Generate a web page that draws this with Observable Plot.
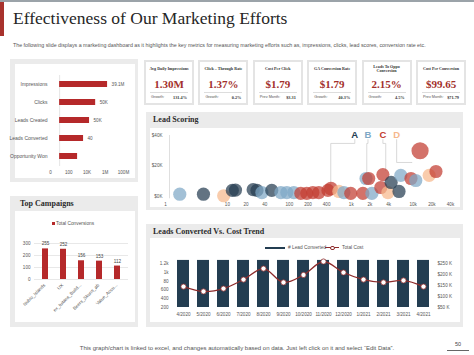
<!DOCTYPE html>
<html><head><meta charset="utf-8">
<script src="https://cdn.jsdelivr.net/npm/d3@7"></script>
<script src="https://cdn.jsdelivr.net/npm/@observablehq/plot@0.6"></script>
<style>
body{margin:0;background:#fff;}
#page{position:relative;width:474px;height:355px;overflow:hidden;font-family:"Liberation Sans",Arial,sans-serif;background:#fff;}
.serif{font-family:"Liberation Serif","DejaVu Serif",serif;}
</style></head>
<body><div id="page"></div>
<script>
// ---------- DATA ----------
const funnelStages = ["Impressions","Clicks","Leads Created","Leads Converted","Opportunity Won"];
const funnelValues = [1800000, 89000, 19000, 4200, 930];
const funnelLabels = ["39.1M","50K","50K","40",""];
const funnelTicks = [1,100,10000,1000000,100000000];
const funnelTickLabels = ["0","100","10K","1M","100M"];

const kpiTitles = ["Avg Daily Impressions","Click – Through Rate","Cost Per Click","GA Conversion Rate","Leads To Oppo<br>Conversion","Cost Per Conversion"];
const kpiValues = ["1.30M","1.37%","$1.79","$1.79","2.15%","$99.65"];
const kpiSubLabels = ["Growth:","Growth:","Prev Month:","Growth:","Growth:","Prev Month:"];
const kpiSubValues = ["131.4%","0.2%","$3.31","40.3%","4.5%","$71.79"];

const campaigns = ["Nublo_Islands","UX","ex_tuitans_Build...","Beers_Skuns_ab","Value_Accu..."];
const conversions = [255,252,156,153,112];

const leadX = [1.7,4.1,8.7,12,13.5,26,30,36,52,73,91,118,153,191,240,299,420,470,630,760,980,1540,1730,1910,2150,3000,3240,3900,4400,5900,6300,9200,11000,12900,18100,23300];
const leadY = [1500,1500,500,4000,4200,4500,4000,2600,4000,2600,2600,2600,2000,2000,2600,2600,4000,5200,3300,2600,2000,2000,11800,11800,2000,5900,14400,2600,9200,3300,13800,11800,10500,30000,13800,16400];
const leadGrade = ["B","A","D","A","A","A","A","B","A","B","B","B","C","C","C","C","C","C","D","B","C","C","B","C","B","C","C","D","A","A","B","C","B","C","D","C"];
const leadWeight = [1,1,1,1,1,1,1,1,1,1,1,1,1,1,1,1,1,1.1,1,1,1,1,1,1,1,1,1,1,1,1,1,1,1,1.7,1,1];
const grades = ["A","B","C","D"];
const gradeColors = ["#253d52","#7ea8c6","#c23b30","#f6b88c"];
const leadTicks = [1,10,20,40,100,200,400,1000,2000,4000,10000,20000,40000];
const leadTickLabels = ["1","10","20","40","100","200","400","1k","2k","4k","10k","20k","40k"];
const leadYTicks = [0,20000,40000];
const leadYTickLabels = ["$0K","$20K","$40K"];
// annotation callouts: letter x, elbow y, target x, target y (data space)
const annoX = [1140,1860,3240,5400];
const annoElbowY = [34800,34800,34800,22300];
const annoTargetX = [466,1780,3600,9600];
const annoTargetY = [7000,15600,17000,22300];

const months = ["4/2020","5/2020","6/2020","7/2020","8/2020","9/2020","10/2020","11/2020","12/2020","1/2021","2/2021","3/2021","4/2021"];
const leadsConverted = [1270,1270,1270,1270,1270,1270,1270,1270,1270,1270,1270,1270,1270];
const totalCostK = [145,123,136,177,227,164,198,259,209,177,164,173,145];
const leadAxisTicks = [200,400,600,800,1000,1200];
const leadAxisLabels = ["200","400","600","80","1k","1.2k"];
const costAxisTicks = [50,100,150,200,250];
const costAxisLabels = ["$50 K","$100 K","$150 K","$200 K","$250 K"];

// ---------- HELPERS ----------
const page = document.getElementById("page");
function div(style, html){const d=document.createElement("div");d.style.cssText="position:absolute;"+style;if(html!=null)d.innerHTML=html;page.appendChild(d);return d;}
function place(svg,x,y){svg.style.position="absolute";svg.style.left=x+"px";svg.style.top=y+"px";page.appendChild(svg);}
const axisStyle = {fontSize:"4.6px",fontFamily:"Liberation Sans, Arial, sans-serif",color:"#666",background:"transparent",overflow:"visible"};

// ---------- HEADER ----------
div("left:0;top:0;width:474px;height:2px;background:#9ba3a9;");
div("left:0;top:2px;width:4px;height:34px;background:#a8322d;");
div("left:13px;top:8px;font-size:17.5px;color:#262626;white-space:nowrap;", "Effectiveness of Our Marketing Efforts").className="serif";
div("left:13px;top:41.5px;font-size:5.3px;color:#555;white-space:nowrap;", "The following slide displays a marketing dashboard as it highlights the key metrics for measuring marketing efforts such as, impressions, clicks, lead scores, conversion rate etc.");

// ---------- PANELS ----------
const gray="#ebebeb";
div(`left:10px;top:59px;width:128px;height:123px;background:${gray};`);
div(`left:15px;top:64px;width:120px;height:114px;background:#fff;`);
div(`left:10px;top:196px;width:128px;height:131px;background:${gray};`);
div(`left:15px;top:211px;width:120px;height:111px;background:#fff;`);
div(`left:146px;top:112px;width:317px;height:98px;background:${gray};`);
div(`left:150px;top:128px;width:310px;height:79px;background:#fff;`);
div(`left:146px;top:224px;width:317px;height:103px;background:${gray};`);
div(`left:150px;top:238px;width:310px;height:84px;background:#fff;`);
const pt = "font-size:8px;font-weight:bold;color:#2b2b2b;white-space:nowrap;";
div("left:20px;top:199px;"+pt,"Top Campaigns").className="serif";
div("left:153px;top:115px;"+pt,"Lead Scoring").className="serif";
div("left:153px;top:227px;"+pt,"Leads Converted Vs. Cost Trend").className="serif";

// ---------- KPI CARDS ----------
kpiTitles.forEach((t,i)=>{
  const x = 146 + i*54.4;
  const c = div(`left:${x}px;top:62px;width:46px;height:41px;background:#fff;box-shadow:0 0 0 2px #e4e4e4;`);
  c.innerHTML = `<div class="serif" style="position:absolute;left:0;width:46px;top:${i===4?3:5}px;text-align:center;font-size:4.1px;line-height:4.3px;font-weight:bold;color:#333;">${t}</div>
  <div class="serif" style="position:absolute;left:0;width:46px;top:16px;text-align:center;font-size:11px;line-height:12px;font-weight:bold;color:#a3302c;">${kpiValues[i]}</div>
  <div style="position:absolute;left:4px;width:38px;top:30px;height:0;border-top:0.6px solid #ddd;"></div>
  <div style="position:absolute;left:5px;top:33px;font-size:3.8px;color:#555;">${kpiSubLabels[i]}</div>
  <div class="serif" style="position:absolute;right:5px;top:32.5px;font-size:4.3px;font-weight:bold;color:#333;">${kpiSubValues[i]}</div>`;
});

// ---------- FUNNEL (log bars) ----------
const funnel = funnelStages.map((s,i)=>({stage:s,value:funnelValues[i],label:funnelLabels[i]}));
const funnelTickData = funnelTicks.map((t,i)=>({t,label:funnelTickLabels[i]}));
place(Plot.plot({
  width:120,height:114,marginLeft:35,marginRight:12,marginTop:11,marginBottom:12,
  style:axisStyle,
  x:{type:"log",domain:[1,1e8],axis:null},
  y:{domain:funnelStages,paddingInner:0.64,paddingOuter:0.32},
  marks:[
    Plot.ruleX([10],{stroke:"#d9d9d9",strokeWidth:0.7}),
    Plot.barX(funnel,{y:"stage",x1:10,x2:"value",fill:"#b5292a"}),
    Plot.text(funnel,{y:"stage",x:"value",text:"label",dx:4,textAnchor:"start",fill:"#555",fontSize:4.6}),
    Plot.text(funnelTickData,{x:"t",text:"label",frameAnchor:"bottom",dy:7,fill:"#555",fontSize:4.6}),
    Plot.axisY({tickSize:0,tickPadding:3,label:null,fill:"#555",fontSize:5})
  ]
}),15,64);

// ---------- TOP CAMPAIGNS ----------
const camp = campaigns.map((c,i)=>({c,v:conversions[i]}));
div("left:52px;top:222px;width:3px;height:3px;background:#b5292a;");
div("left:56px;top:221px;font-size:4.8px;color:#555;white-space:nowrap;","Total Conversions");
place(Plot.plot({
  width:120,height:111,marginLeft:19,marginRight:7,marginTop:32,marginBottom:43,
  style:axisStyle,
  x:{domain:campaigns,paddingInner:0.67,paddingOuter:0.335,axis:null},
  y:{domain:[0,300]},
  marks:[
    Plot.gridY([0,100,200,300],{stroke:"#d9d9d9",strokeOpacity:1,strokeWidth:0.6}),
    Plot.axisY([0,100,200,300],{tickSize:0,tickPadding:4,label:null,fill:"#555"}),
    Plot.barY(camp,{x:"c",y:"v",fill:"#b5292a"}),
    Plot.text(camp,{x:"c",y:"v",text:d=>String(d.v),dy:-5,fill:"#444",fontSize:4.6}),
    Plot.text(camp,{x:"c",y:0,text:"c",rotate:-45,textAnchor:"end",dy:5,dx:-1,fill:"#555",fontSize:4.6})
  ]
}),15,211);

// ---------- LEAD SCORING (bubbles) ----------
const leads = leadX.map((x,i)=>({x,y:leadY[i],g:leadGrade[i],w:leadWeight[i]}));
const annos = grades.map((g,i)=>({g,lx:annoX[i],ey:annoElbowY[i],tx:annoTargetX[i],ty:annoTargetY[i]}));
const leaderPts = annos.flatMap(a=>[
  {g:a.g,x:a.lx,y:37300},{g:a.g,x:a.lx,y:a.ey},{g:a.g,x:a.tx,y:a.ey},{g:a.g,x:a.tx,y:a.ty}]);
const leadTickData = leadTicks.map((t,i)=>({t,label:leadTickLabels[i]}));
place(Plot.plot({
  width:310,height:79,marginLeft:15,marginRight:10,marginTop:7,marginBottom:11,
  style:axisStyle,
  x:{type:"log",domain:[1,40000],axis:null},
  y:{domain:[0,40000]},
  color:{domain:grades,range:gradeColors},
  r:{domain:[0,1.7],range:[0,8.6]},
  marks:[
    Plot.ruleX([1.16],{stroke:"#d0d0d0",strokeWidth:0.7,y1:-1500,y2:40000}),
    Plot.line(leaderPts,{x:"x",y:"y",z:"g",stroke:"#cfcfcf",strokeWidth:0.8}),
    Plot.dot(leads,{x:"x",y:"y",r:"w",fill:"g",fillOpacity:0.72,stroke:null}),
    Plot.text(annos,{x:"lx",y:40000,text:"g",fill:"g",fontSize:9.5,fontWeight:"bold",dy:-1}),
    Plot.text(leadTickData,{x:"t",text:"label",frameAnchor:"bottom",dy:9,fill:"#555",fontSize:4.6}),
    Plot.axisY({ticks:leadYTicks,tickFormat:d=>leadYTickLabels[leadYTicks.indexOf(d)],tickSize:0,tickPadding:3,label:null,fill:"#555"})
  ]
}),150,128);

// ---------- TREND ----------
const costToLead = c => 200 + (c-50)/200*1000;
const trend = months.map((m,i)=>({m,leads:leadsConverted[i],cost:totalCostK[i]}));
// legend
div("left:265px;top:246.5px;width:20px;height:2px;background:#233d51;");
div("left:288px;top:245px;font-size:4.8px;color:#555;white-space:nowrap;","# Lead Converted");
div("left:325px;top:247px;width:14px;height:1.2px;background:#8e2c2c;");
div("left:330px;top:245.6px;width:2.6px;height:2.6px;border-radius:50%;background:#fff;border:0.6px solid #8e2c2c;");
div("left:342px;top:245px;font-size:4.8px;color:#555;white-space:nowrap;","Total Cost");
place(Plot.plot({
  width:310,height:84,marginLeft:27,marginRight:31,marginTop:25,marginBottom:15,
  style:axisStyle,
  x:{domain:months,paddingInner:0.4,paddingOuter:0},
  y:{domain:[200,1200]},
  marks:[
    Plot.axisY({ticks:leadAxisTicks,tickFormat:d=>leadAxisLabels[leadAxisTicks.indexOf(d)],tickSize:0,tickPadding:9,label:null,fill:"#555"}),
    Plot.axisY({anchor:"right",ticks:costAxisTicks.map(costToLead),tickFormat:d=>costAxisLabels[costAxisTicks.map(costToLead).indexOf(d)],tickSize:0,tickPadding:8,label:null,fill:"#555"}),
    Plot.barY(trend,{x:"m",y1:200,y2:"leads",fill:"#233d51"}),
    Plot.line(trend,{x:"m",y:d=>costToLead(d.cost),stroke:"#8e2c2c",strokeWidth:1.3,curve:"catmull-rom"}),
    Plot.dot(trend,{x:"m",y:d=>costToLead(d.cost),r:2.6,fill:"#fff",stroke:"#8e2c2c",strokeWidth:0.8}),
    Plot.axisX({tickSize:0,tickPadding:5,label:null,fill:"#555"})
  ]
}),150,238);

// ---------- FOOTER ----------
div("left:0;width:474px;top:344.5px;text-align:center;font-size:6px;color:#555;white-space:nowrap;","This graph/chart is linked to excel, and changes automatically based on data. Just left click on it and select “Edit Data”.");
div("left:447px;width:22px;top:341px;text-align:center;font-size:5.5px;color:#444;","50");
div("left:447px;top:350px;width:22px;height:1px;background:#666;");
</script></body></html>
